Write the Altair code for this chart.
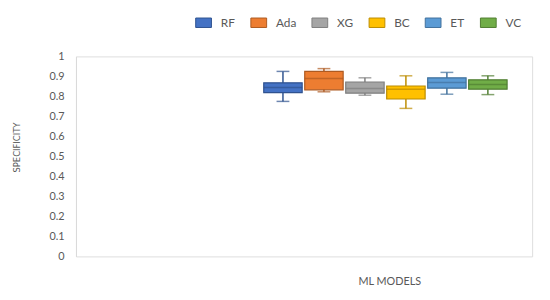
import altair as alt
import pandas as pd

models = ["RF", "Ada", "XG", "BC", "ET", "VC"]
mins = [0.775, 0.823, 0.806, 0.740, 0.811, 0.809]
q1s = [0.819, 0.833, 0.816, 0.787, 0.841, 0.836]
medians = [0.844, 0.890, 0.839, 0.836, 0.869, 0.860]
q3s = [0.868, 0.925, 0.872, 0.852, 0.893, 0.883]
maxs = [0.925, 0.939, 0.893, 0.903, 0.920, 0.903]
y_ticks = [0, 0.1, 0.2, 0.3, 0.4, 0.5, 0.6, 0.7, 0.8, 0.9, 1]

fills = ["#4472C4", "#ED7D31", "#A5A5A5", "#FFC000", "#5B9BD5", "#70AD47"]
strokes = ["#2F528F", "#AE5A21", "#7F7F7F", "#BC8C00", "#41719C", "#507E32"]

df = pd.DataFrame({"model": models, "pos": list(range(len(models))), "lo": mins,
                   "q1": q1s, "med": medians, "q3": q3s, "hi": maxs})

FONT = "Lato"
GRAY = "#595959"

x = alt.X("pos:Q", scale=alt.Scale(domain=[-4.93, 5.96], nice=False, zero=False),
          axis=alt.Axis(title="ML MODELS", labels=False, ticks=False, domain=False,
                        grid=False, titleX=318, titleY=26, titleBaseline="middle",
                        titleFont=FONT, titleFontSize=11, titleFontWeight="normal",
                        titleColor=GRAY))
yscale = alt.Scale(domain=[0, 1], nice=False)
yaxis = alt.Axis(title="SPECIFICITY", values=y_ticks, format="~g",
                 labelOverlap=False, ticks=False, grid=False,
                 domainColor="#D9D9D9", labelPadding=12, labelFont=FONT,
                 labelFontSize=11, labelColor=GRAY,
                 titleFont="DejaVu Sans Condensed",
                 titleFontSize=9.5, titleFontWeight="normal",
                 titleColor=GRAY, titleX=-60, titleY=92,
                 titleAlign="center", titleBaseline="middle")

# legend scales (fill + stroke share the same domain so their legends merge)
fill_scale = alt.Scale(domain=models, range=fills)
stroke_scale = alt.Scale(domain=models, range=strokes)
# line colour scale for whiskers/medians (different domain order -> no legend merge)
stroke_map = dict(zip(models, strokes))
line_domain = sorted(models)
line_scale = alt.Scale(domain=line_domain, range=[stroke_map[m] for m in line_domain])

legend = alt.Legend(title=None, orient="none", direction="horizontal",
                    legendX=121, legendY=-43,
                    symbolType="M-1,-0.6H1V0.6H-1Z", symbolSize=256,
                    symbolStrokeWidth=1, labelFont=FONT,
                    labelFontSize=12, labelColor=GRAY,
                    labelOffset=9, columnPadding=13, padding=0)

base = alt.Chart(df)

whisk = base.mark_rule(strokeWidth=1.5).encode(
    x=x,
    y=alt.Y("lo:Q", scale=yscale, axis=yaxis),
    y2="hi:Q",
    color=alt.Color("model:N", scale=line_scale, legend=None),
)

caps_lo = base.mark_tick(size=13, thickness=1.5, orient="horizontal").encode(
    x=x, y=alt.Y("lo:Q", scale=yscale, axis=yaxis),
    color=alt.Color("model:N", scale=line_scale, legend=None))
caps_hi = base.mark_tick(size=13, thickness=1.5, orient="horizontal").encode(
    x=x, y=alt.Y("hi:Q", scale=yscale, axis=yaxis),
    color=alt.Color("model:N", scale=line_scale, legend=None))

box = base.mark_bar(size=39, strokeWidth=1.2).encode(
    x=x, y=alt.Y("q1:Q", scale=yscale, axis=yaxis), y2="q3:Q",
    fill=alt.Fill("model:N", scale=fill_scale, legend=legend),
    stroke=alt.Stroke("model:N", scale=stroke_scale, legend=legend),
)

med = base.mark_tick(size=39, thickness=1.5, orient="horizontal").encode(
    x=x, y=alt.Y("med:Q", scale=yscale, axis=yaxis),
    color=alt.Color("model:N", scale=line_scale, legend=None))

chart = alt.layer(whisk, caps_lo, caps_hi, box, med).properties(
    width=463, height=203,
    autosize=alt.AutoSizeParams(type="none"),
    padding={"left": 69, "top": 47, "right": 10, "bottom": 34},
).configure_view(stroke=None).configure(background="white")

chart.save("out.html", embed_options={"renderer": "svg", "actions": False})
